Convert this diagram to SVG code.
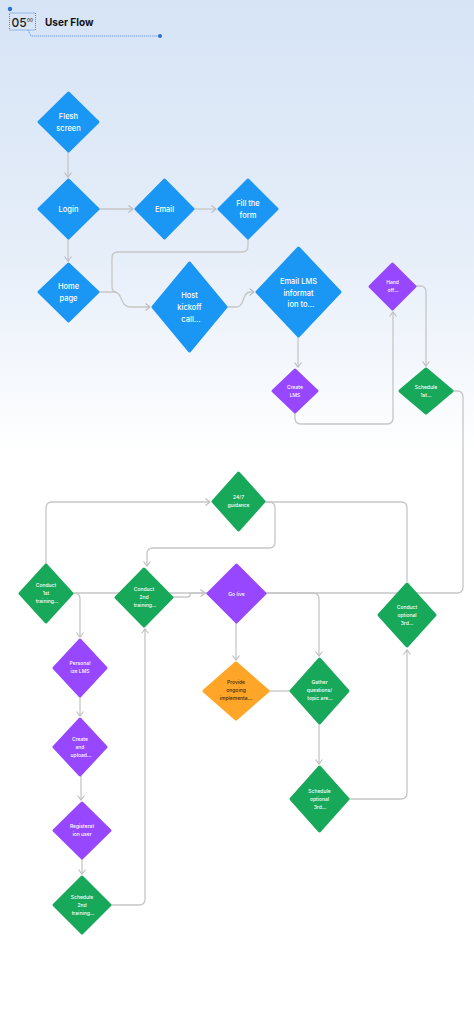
<svg xmlns="http://www.w3.org/2000/svg" width="474" height="1010" viewBox="0 0 474 1010">
<defs>
<linearGradient id="bg" x1="0" y1="0" x2="0" y2="1">
<stop offset="0" stop-color="#d6e4f6"/>
<stop offset="0.25" stop-color="#e6eef9"/>
<stop offset="0.45" stop-color="#ffffff"/>
<stop offset="1" stop-color="#ffffff"/>
</linearGradient>
<marker id="arr" viewBox="0 0 6 8" refX="5" refY="4" markerWidth="6" markerHeight="8" markerUnits="userSpaceOnUse" orient="auto">
<path d="M0.5,0.5 L5,4 L0.5,7.5" fill="none" stroke="#bdbdbd" stroke-width="1.1"/>
</marker>
<style>
.c{fill:none;stroke:#c6c6c6;stroke-width:1.3}
.blue{fill:#1a96f4;stroke:#1a96f4;stroke-width:3;stroke-linejoin:round}
.pur{fill:#9747ff;stroke:#9747ff;stroke-width:3;stroke-linejoin:round}
.grn{fill:#17a85a;stroke:#17a85a;stroke-width:3;stroke-linejoin:round}
.org{fill:#ffa629;stroke:#ffa629;stroke-width:3;stroke-linejoin:round}
text{font-family:Inter,"Liberation Sans",sans-serif;text-anchor:middle;fill:#fff;font-weight:500}
.b{font-size:7.5px}
.s{font-size:5px}
.dk{fill:#3a2a10}
</style>
</defs>
<rect x="0" y="0" width="474" height="1010" fill="url(#bg)"/>

<g id="header">
<circle cx="10" cy="9" r="2.2" fill="#2f6fd6"/>
<rect x="9.5" y="13" width="26" height="17" fill="none" stroke="#2f6fd6" stroke-width="0.8" stroke-dasharray="1,1"/>
<text x="19" y="27" style="font-size:12px;fill:#1a1a1a;text-anchor:middle">05</text>
<text x="30" y="22" style="font-size:4.5px;fill:#1a1a1a;text-anchor:middle">00</text>
<text x="45" y="26" style="font-size:10px;font-weight:bold;fill:#111;text-anchor:start">User Flow</text>
<path d="M28,30 L31,36 L160,36" fill="none" stroke="#2f6fd6" stroke-width="0.8" stroke-dasharray="1,1"/>
<circle cx="160" cy="36" r="2" fill="#2f6fd6"/>
</g>

<g id="connectors">
<path class="c" d="M68,152 L68,177" marker-end="url(#arr)"/>
<path class="c" d="M99,209 L133,209" marker-end="url(#arr)"/>
<path class="c" d="M194,209 L216,209" marker-end="url(#arr)"/>
<path class="c" d="M68,239 L68,261" marker-end="url(#arr)"/>
<path class="c" d="M248,239 L248,246 Q248,252 242,252 L118,252 Q112,252 112,258 L112,286 Q112,292 116,292"/>
<path class="c" d="M99,292 L114,292 C123,292 120,307 130,307 L150,307" marker-end="url(#arr)"/>
<path class="c" d="M227,307 L236,307 C245,307 242,292 250,292 L254,292" marker-end="url(#arr)"/>
<path class="c" d="M298,337 L298,367" marker-end="url(#arr)"/>
<path class="c" d="M295,413 L295,418 Q295,424 301,424 L387,424 Q393,424 393,418 L393,312" marker-end="url(#arr)"/>
<path class="c" d="M416,286 L420,286 Q426,286 426,292 L426,366" marker-end="url(#arr)"/>
<path class="c" d="M453,391 L457,391 Q463,391 463,397 L463,587 Q463,593 457,593 L74,593"/>
<path class="c" d="M73,593 L74,593 Q80,593 80,599 L80,637" marker-end="url(#arr)"/>
<path class="c" d="M46,564 L46,508 Q46,502 52,502 L210,502" marker-end="url(#arr)"/>
<path class="c" d="M265,502 L269,502 Q275,502 275,508 L275,542 Q275,548 269,548 L153,548 Q147,548 147,554 L147,566" marker-end="url(#arr)"/>
<path class="c" d="M407,582 L407,508 Q407,502 401,502 L266,502"/>
<path class="c" d="M173,597 L188,597 Q190,597 190,595 Q190,593 192,593 L205,593" marker-end="url(#arr)"/>
<path class="c" d="M266,593 L313,593 Q319,593 319,599 L319,656" marker-end="url(#arr)"/>
<path class="c" d="M236,623 L236,660" marker-end="url(#arr)"/>
<path class="c" d="M269,691 L290,691"/>
<path class="c" d="M319,724 L319,764" marker-end="url(#arr)"/>
<path class="c" d="M349,799 L401,799 Q407,799 407,793 L407,650" marker-end="url(#arr)"/>
<path class="c" d="M80,697 L80,716" marker-end="url(#arr)"/>
<path class="c" d="M81,776 L81,800" marker-end="url(#arr)"/>
<path class="c" d="M82,859 L82,874" marker-end="url(#arr)"/>
<path class="c" d="M111,905 L139,905 Q145,905 145,899 L145,629" marker-end="url(#arr)"/>
</g>

<g id="flesh-screen"><path class="blue" d="M68.5,93 L98,122 L68.5,151 L39,122 Z"/><text class="b" x="68.5" y="119">Flesh</text><text class="b" x="68.5" y="131">screen</text></g>
<g id="login"><path class="blue" d="M68.5,180 L98,209 L68.5,238 L39,209 Z"/><text class="b" x="68.5" y="212">Login</text></g>
<g id="email"><path class="blue" d="M164.5,180 L193,209 L164.5,238 L136,209 Z"/><text class="b" x="164.5" y="212">Email</text></g>
<g id="fill-form"><path class="blue" d="M248,180 L277,209 L248,238 L219,209 Z"/><text class="b" x="248" y="206">Fill the</text><text class="b" x="248" y="218">form</text></g>
<g id="home-page"><path class="blue" d="M68.5,264 L98,292 L68.5,321 L39,292 Z"/><text class="b" x="68.5" y="289">Home</text><text class="b" x="68.5" y="301">page</text></g>
<g id="host-kickoff"><path class="blue" d="M189.5,263 L226,307 L189.5,351 L153,307 Z"/><text class="b" x="189.5" y="298">Host</text><text class="b" x="189.5" y="310">kickoff</text><text class="b" x="191" y="322">call...</text></g>
<g id="email-lms"><path class="blue" d="M298.5,248 L340,292 L298.5,336 L257,292 Z"/><text class="b" x="298.5" y="284">Email LMS</text><text class="b" x="298.5" y="296">informat</text><text class="b" x="301" y="307">ion to...</text></g>
<g id="create-lms"><path class="pur" d="M295,370 L317,391 L295,412 L273,391 Z"/><text class="s" x="295" y="389">Create</text><text class="s" x="295" y="397">LMS</text></g>
<g id="hand-off"><path class="pur" d="M392.5,264 L415,286.5 L392.5,309 L370,286.5 Z"/><text class="s" x="392.5" y="284">Hand</text><text class="s" x="393" y="292">off...</text></g>
<g id="schedule-1st"><path class="grn" d="M426,369 L452,391 L426,413 L400,391 Z"/><text class="s" x="426" y="389">Schedule</text><text class="s" x="426" y="397">1st...</text></g>

<g id="guidance"><path class="grn" d="M238.5,473 L264,501.5 L238.5,530 L213,501.5 Z"/><text class="s" x="238.5" y="499">24/7</text><text class="s" x="238.5" y="507">guidance</text></g>
<g id="conduct-1st"><path class="grn" d="M46,565 L72,593.5 L46,622 L20,593.5 Z"/><text class="s" x="46" y="587">Conduct</text><text class="s" x="46" y="595">1st</text><text class="s" x="47" y="603">training...</text></g>
<g id="conduct-2nd"><path class="grn" d="M144,569 L172,597.5 L144,626 L116,597.5 Z"/><text class="s" x="144" y="591">Conduct</text><text class="s" x="144" y="599">2nd</text><text class="s" x="145" y="607">training...</text></g>
<g id="go-live"><path class="pur" d="M236.5,565 L265,593.5 L236.5,622 L208,593.5 Z"/><text class="s" x="236.5" y="595.5">Go live</text></g>
<g id="conduct-optional"><path class="grn" d="M407,584 L435,615 L407,646 L379,615 Z"/><text class="s" x="407" y="609">Conduct</text><text class="s" x="407" y="617">optional</text><text class="s" x="407" y="625">3rd...</text></g>
<g id="personalize"><path class="pur" d="M80,640 L106,668 L80,696 L54,668 Z"/><text class="s" x="80" y="665">Personal</text><text class="s" x="80" y="673">ize LMS</text></g>
<g id="create-upload"><path class="pur" d="M80,719 L106,747 L80,775 L54,747 Z"/><text class="s" x="80" y="741">Create</text><text class="s" x="80" y="749">and</text><text class="s" x="81" y="757">upload...</text></g>
<g id="provide-ongoing"><path class="org" d="M236,663 L268,691 L236,719 L204,691 Z"/><text class="s dk" x="236" y="684">Provide</text><text class="s dk" x="236" y="692">ongoing</text><text class="s dk" x="236" y="700">implementa...</text></g>
<g id="gather-questions"><path class="grn" d="M319.5,659 L348,691 L319.5,723 L291,691 Z"/><text class="s" x="319.5" y="684">Gather</text><text class="s" x="319.5" y="692">questions/</text><text class="s" x="320" y="700">topic are...</text></g>
<g id="schedule-optional"><path class="grn" d="M319.5,767 L348,799 L319.5,831 L291,799 Z"/><text class="s" x="319.5" y="793">Schedule</text><text class="s" x="319.5" y="801">optional</text><text class="s" x="320" y="809">3rd...</text></g>
<g id="registeration"><path class="pur" d="M82,803 L110,830.5 L82,858 L54,830.5 Z"/><text class="s" x="82" y="828">Registerat</text><text class="s" x="82" y="836">ion user</text></g>
<g id="schedule-2nd"><path class="grn" d="M82,877 L110,905 L82,933 L54,905 Z"/><text class="s" x="82" y="899">Schedule</text><text class="s" x="82" y="907">2nd</text><text class="s" x="83" y="915">training...</text></g>
</svg>
